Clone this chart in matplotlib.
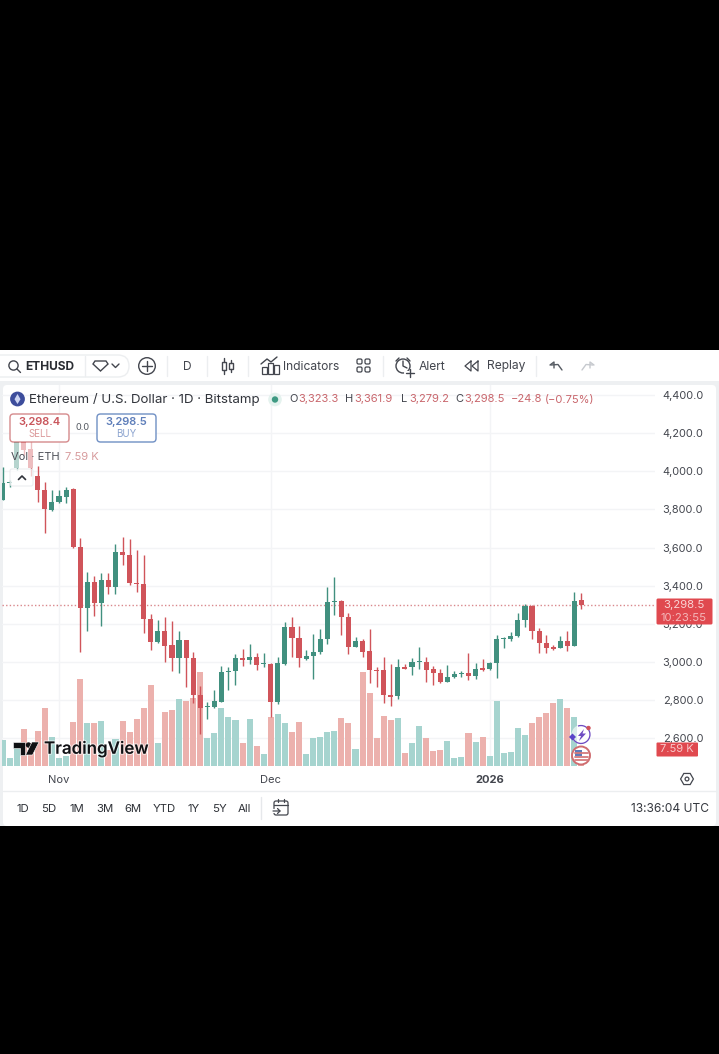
import matplotlib
matplotlib.use("Agg")
import matplotlib.pyplot as plt
from matplotlib.patches import Rectangle, FancyBboxPatch, Circle, Polygon, Wedge, RegularPolygon
import matplotlib.patheffects as pe

plt.rcParams['font.family'] = ['Inter', 'DejaVu Sans']

days = list(range(-8, 75))
opens = [3850,3938,4017,4190,4117,3975,3902,3797,3839,3865,3907,3603,3283,3420,3310,3430,3393,3577,3561,3414,
         3409,3226,3105,3163,3089,3021,3116,3021,2827,2764,2764,2791,2948,2953,3021,3011,3026,2990,2990,2791,
         2990,3184,3126,3016,3032,3053,3121,3315,3320,3236,3079,3110,3058,2958,2958,2827,2822,2974,2974,3000,
         3000,2963,2943,2895,2922,2937,2943,2927,2968,2963,2995,3121,3121,3137,3220,3294,3163,3100,3079,3074,
         3110,3084,3323.3]
highs = [4023,3954,4217,4217,4154,4028,3944,3902,3902,3918,3912,3650,3472,3451,3467,3467,3619,3656,3645,3587,
         3561,3252,3220,3236,3215,3163,3116,3053,2874,2791,2853,2979,2974,3042,3068,3095,3047,3047,2995,3026,
         3210,3236,3189,3063,3147,3173,3393,3446,3325,3257,3131,3121,3173,2974,3026,2990,3016,2990,3021,3079,
         3026,2979,2963,2984,2953,2953,3047,2995,3016,3000,3142,3131,3158,3257,3304,3299,3178,3142,3089,3137,
         3163,3367,3361.9]
lows = [3850,3917,4007,4085,3975,3839,3677,3792,3834,3834,3598,3053,3163,3241,3189,3357,3357,3509,3404,3367,
        3152,3063,3100,3000,2953,2943,2869,2785,2623,2701,2759,2791,2853,2880,2979,2990,2958,2974,2712,2780,
        2984,3026,2974,3011,2911,3042,3095,3247,3142,3042,3079,3026,2890,2869,2785,2770,2806,2963,2932,2963,
        2895,2880,2890,2895,2916,2922,2906,2911,2953,2958,2916,3074,3110,3131,3184,3121,3047,3047,3063,3074,
        3058,3084,3279.2]
closes = [3938,3944,4190,4112,4017,3902,3802,3839,3870,3902,3603,3283,3420,3310,3430,3393,3577,3561,3414,3409,
          3226,3105,3163,3084,3021,3116,3021,2827,2759,2770,2796,2948,2953,3021,3011,3026,2984,2995,2791,2995,
          3184,3126,3021,3032,3053,3121,3315,3320,3236,3079,3110,3053,2958,2953,2827,2817,2974,2963,3000,3005,
          2958,2943,2895,2922,2937,2943,2927,2963,2958,2995,3121,3126,3137,3220,3294,3163,3100,3074,3068,3110,
          3084,3320,3298.5]
volumes = [11.6,3.6,10.3,16.5,10.3,15.6,25.9,12.9,3.6,4.5,19.6,38.8,19.2,19.2,20.1,7.1,12.1,20.1,15.2,21.0,
           25.9,36.2,10.3,24.1,25.0,29.9,29.0,30.4,42.0,12.5,14.7,25.9,21.9,20.5,10.3,21.0,8.9,5.4,21.9,23.2,
           19.2,15.2,19.6,5.4,12.5,12.9,15.2,15.6,21.4,19.2,7.6,42.0,32.6,12.5,22.3,20.5,21.4,5.8,10.3,17.9,
           12.5,6.7,7.1,11.2,3.6,4.0,14.7,10.7,12.9,4.5,29.0,5.8,6.3,17.0,13.8,19.2,21.9,23.7,28.1,29.9,
           25.9,21.9,7.59]
price_ticks = [2600,2800,3000,3200,3400,3600,3800,4000,4200,4400]
time_ticks = [0, 30, 61]
time_labels = ['Nov', 'Dec', '2026']
last_price = 3298.5
range_labels = ['1D','5D','1M','3M','6M','YTD','1Y','5Y','All']

W, H = 719, 1054
GREEN, RED = '#41907f', '#d0545a'
VGREEN, VRED = '#a6d4cf', '#ecb1ad'
INK, GRID = '#43464e', '#f3f4f6'
SOFTRED = '#c9666c'

fig = plt.figure(figsize=(W/100, H/100), dpi=100, facecolor='black')

def box(l, t, r, b):
    return [l/W, 1-b/H, (r-l)/W, (b-t)/H]

bg = fig.add_axes([0, 0, 1, 1], zorder=0)
bg.set_xlim(0, W); bg.set_ylim(H, 0); bg.axis('off')
bg.add_patch(Rectangle((0, 350), W, 476, fc='white', ec='none'))
bg.add_patch(Rectangle((0, 381), W, 445, fc='#eef0f2', ec='none'))
bg.add_patch(FancyBboxPatch((5, 387), 709, 437, boxstyle='round,pad=2,rounding_size=4', fc='white', ec='none'))

# price pane
ax = fig.add_axes(box(2, 385, 655, 766), zorder=1)
PX = 7.06
ax.set_xlim((2-59)/PX, (655-59)/PX)
ax.set_ylim(2455.0, 4452.4)
ax.patch.set_alpha(0)
for s in ax.spines.values():
    s.set_visible(False)

# volume
vol = ax.twinx()
vol.set_zorder(2); vol.patch.set_visible(False)
vol.set_ylim(0, 170.1); vol.axis('off')
vcol = [VGREEN if c >= o else VRED for o, c in zip(opens, closes)]
vol.bar(days, volumes, width=0.86, color=vcol, lw=0)

# candles
cax = ax.twinx()
cax.set_zorder(3); cax.patch.set_visible(False)
cax.set_ylim(ax.get_ylim()); cax.axis('off')
cax.axhline(last_price, color='#d9888c', lw=1, ls=(0, (1, 1.6)), zorder=1)
for d, o, h, l, c in zip(days, opens, highs, lows, closes):
    col = GREEN if c >= o else RED
    cax.vlines(d, l, h, color=col, lw=1.0, zorder=2)
    low, high = min(o, c), max(o, c)
    cax.bar(d, max(high-low, 6), bottom=low, width=0.72, color=col, lw=0, zorder=3)

# ticks are set after twinx, which would otherwise move them back to the left
ax.yaxis.tick_right()
ax.set_yticks(price_ticks)
ax.set_yticklabels([f'{p:,.1f}' for p in price_ticks], fontsize=7.9, color=INK)
ax.tick_params(axis='y', length=0, pad=5.5)
ax.set_xticks(time_ticks)
ax.set_xticklabels(time_labels, fontsize=8, color=INK)
ax.get_xticklabels()[2].set_fontweight('bold')
ax.tick_params(axis='x', length=0, pad=6.5)
ax.grid(True, color=GRID, lw=1)
ax.set_axisbelow(True)

# interface overlay in screen pixels
ov = fig.add_axes([0, 0, 1, 1], zorder=4)
ov.set_xlim(0, W); ov.set_ylim(H, 0); ov.axis('off'); ov.patch.set_visible(False)

def T(x, y, s, size=8.2, color=INK, ha='left', weight='normal', **kw):
    return ov.text(x, y, s, fontsize=size, color=color, ha=ha, va='center', fontweight=weight, **kw)

def L(xs, ys, color=INK, lw=1.0, **kw):
    ov.plot(xs, ys, color=color, lw=lw, solid_capstyle='round', **kw)

# toolbar
ov.add_patch(FancyBboxPatch((-12, 355), 141, 22, boxstyle='round,pad=0,rounding_size=11', fc='white', ec='#eceef0', lw=1))
ov.add_patch(Circle((13.5, 365.5), 4.6, fc='none', ec=INK, lw=1))
L([17, 20.5], [369, 372.5])
T(25, 366.5, 'ETHUSD', 8.6, '#2a2d33', weight='bold')
for x in (85, 167, 207, 248, 383, 536):
    L([x, x], [356, 376], color='#eceef0')
ov.add_patch(Polygon([[95, 361], [106, 361], [108, 364], [100.5, 371], [93, 364]], fc='none', ec=INK, lw=1))
L([112, 115.5, 119], [364, 367.5, 364])
ov.add_patch(Circle((147, 366), 8.3, fc='none', ec=INK, lw=1))
L([142, 152], [366, 366]); L([147, 147], [361, 371])
T(187, 366.5, 'D', 8.6, ha='center')
for x, y0, y1, t0, t1 in ((224, 362, 370, 358, 374), (231, 363, 369, 360, 372)):
    ov.add_patch(Rectangle((x-2, y0), 4, y1-y0, fc='none', ec=INK, lw=1))
    L([x, x], [t0, y0]); L([x, x], [y1, t1])
for x, h in ((262, 7), (268, 11), (274, 9)):
    ov.add_patch(Rectangle((x, 374-h), 5, h, fc='none', ec=INK, lw=0.9))
L([261, 267, 271, 277], [364, 359, 362, 357])
T(283, 366.5, 'Indicators', 8.7)
for x in (357, 365):
    for y in (359, 367):
        ov.add_patch(FancyBboxPatch((x, y), 5, 5, boxstyle='round,pad=0,rounding_size=1.5', fc='none', ec=INK, lw=0.9))
ov.add_patch(Circle((403, 366), 7, fc='none', ec=INK, lw=1))
L([403, 403, 407], [361, 366, 368])
L([396, 399], [361, 358]); L([410, 407], [361, 358])
L([406, 414], [373, 373], color='white', lw=3); L([410, 410], [369, 377]); L([406, 414], [373, 373])
T(419, 366.5, 'Alert', 8.7)
L([471, 465, 471, 471], [361, 366, 371, 361], lw=0.9); L([478, 472, 478, 478], [361, 366, 371, 361], lw=0.9)
T(487, 366.5, 'Replay', 8.7)
L([550, 554, 554], [365, 362, 368], color='#555a62'); L([551, 558, 562], [365, 364.5, 370], color='#555a62')
L([594, 590, 590], [365, 362, 368], color='#c6c9ce'); L([593, 586, 582], [365, 364.5, 370], color='#c6c9ce')

# legend row
ov.add_patch(Circle((17.5, 399), 7.4, fc='#3d4d9c', ec='none'))
ov.add_patch(Polygon([[17.5, 394], [20.5, 399.2], [17.5, 404], [14.5, 399.2]], fc='#cdd5f3', ec='none'))
T(29, 399.5, 'Ethereum / U.S. Dollar · 1D · Bitstamp', 9.6, '#31343b')
ov.add_patch(Circle((275, 399.5), 6.8, fc='#e4f2ee', ec='none'))
ov.add_patch(Circle((275, 399.5), 3.2, fc='#3f9a83', ec='none'))
for x, s, col in ((289, 'O', INK), (298.5, '3,323.3', SOFTRED), (345, 'H', INK), (354.5, '3,361.9', SOFTRED),
                  (401, 'L', INK), (409, '3,279.2', SOFTRED), (455, 'C', INK), (464.5, '3,298.5', SOFTRED),
                  (511, '−24.8', SOFTRED), (545, '(−0.75%)', SOFTRED)):
    T(x, 399.5, s, 8.0, col)

# fading behind labels
ov.add_patch(Rectangle((10, 443), 26, 25, fc='white', alpha=0.62, ec='none'))
ov.add_patch(FancyBboxPatch((10, 469), 23, 17, boxstyle='round,pad=0,rounding_size=2', fc='white', alpha=0.72, ec='#e4e6e9', lw=0.8))
L([18.5, 22, 25.5], [479.5, 476, 479.5], color='#30333a', lw=1.2)
T(11, 456.5, 'Vol · ETH', 8.0, '#4a4d55')
T(65, 456.5, '7.59 K', 8.0, '#d79a9c')

# sell / buy
ov.add_patch(FancyBboxPatch((10, 414), 59, 28, boxstyle='round,pad=0,rounding_size=3.5', fc='white', ec='#d58a8c', lw=1))
ov.add_patch(FancyBboxPatch((97, 414), 59, 28, boxstyle='round,pad=0,rounding_size=3.5', fc='white', ec='#6f8fc4', lw=1))
T(39.5, 422, '3,298.4', 8.0, '#c9565c', ha='center', weight='semibold')
T(39.5, 434, 'SELL', 7.0, '#dc9a9c', ha='center')
T(126.5, 422, '3,298.5', 8.0, '#5f7fba', ha='center', weight='semibold')
T(126.5, 434, 'BUY', 7.0, '#8ba3cf', ha='center')
T(83, 427.5, '0.0', 6.6, '#555a62', ha='center')

# price labels
ov.add_patch(FancyBboxPatch((656.5, 598.5), 56, 26, boxstyle='round,pad=0,rounding_size=1.5', fc='#e0494f', ec='none'))
T(684, 605.5, '3,298.5', 8.2, '#f9d3d4', ha='center')
T(684, 618, '10:23:55', 8.2, '#f4b7b9', ha='center')
ov.add_patch(FancyBboxPatch((656.5, 742.5), 41.5, 14, boxstyle='round,pad=0,rounding_size=1', fc='#e0494f', ec='none'))
T(677, 749.5, '7.59 K', 8.0, '#f9c9cb', ha='center')

# watermark
halo = [pe.withStroke(linewidth=1.6, foreground='white', alpha=0.6)]
mark = ['#101114']
ov.add_patch(Polygon([[13, 742], [25, 742], [25, 755], [19.5, 755], [19.5, 747.5], [13, 747.5]], fc=mark[0], ec='white', lw=0.4))
ov.add_patch(Circle((28.5, 745), 2.7, fc=mark[0], ec='none'))
ov.add_patch(Polygon([[32, 742], [39, 742], [32.5, 755], [25.5, 755]], fc=mark[0], ec='white', lw=0.4))
T(44, 749, 'TradingView', 12.2, mark[0], weight='semibold', path_effects=halo)

# status icons
ov.add_patch(Circle((581, 734.5), 9.5, fc='white', alpha=0.6, ec='none'))
ov.add_patch(Wedge((581, 734.5), 9.6, -110, 175, width=1.3, fc='#6e4bc2', ec='none'))
ov.add_patch(Polygon([[584, 729], [578, 736], [581, 736], [579, 741], [586, 733.5], [582.5, 733.5]], fc='#6e4bc2', ec='none'))
ov.add_patch(Polygon([[569, 737], [572.5, 733.5], [576, 737], [572.5, 740.5]], fc='#5a45c9', ec='none'))
ov.add_patch(Circle((588.5, 728), 2.2, fc='#d0525a', ec='none'))
ov.add_patch(Circle((581, 755.5), 9, fc='white', ec='#cf6d70', lw=1.4))
for y in (753, 756.5, 760):
    L([574.5, 587.5], [y, y], color='#d5797c', lw=1.3)
ov.add_patch(Rectangle((575, 750), 7, 5.5, fc='#5f7ab8', ec='none'))

# settings hexagon
ov.add_patch(RegularPolygon((687, 779), 6, radius=6.4, orientation=0.5236, fc='none', ec=INK, lw=0.9))
ov.add_patch(Circle((687, 779), 1.9, fc='none', ec=INK, lw=0.9))

# bottom bar
L([3, 716], [791, 791], color='#eceef0')
for x, s in zip((23, 49, 77, 105, 133, 164, 194, 219, 244), range_labels):
    T(x, 808.5, s, 8.2, '#2f3238', ha='center')
L([260.5, 260.5], [797, 819], color='#e6e8eb')
ov.add_patch(FancyBboxPatch((274, 801), 14, 14, boxstyle='round,pad=0,rounding_size=2', fc='none', ec=INK, lw=0.9))
L([274, 288], [804.5, 804.5], lw=0.9); L([278, 278], [799, 802], lw=0.9); L([284, 284], [799, 802], lw=0.9)
L([272, 281], [811, 811], color='white', lw=3); L([273, 280, 277.5], [811, 811, 808.5], lw=0.9); L([280, 277.5], [811, 813.5], lw=0.9)
T(709, 808.5, '13:36:04 UTC', 8.6, '#34373e', ha='right')

fig.savefig('out.png', dpi=100, facecolor='black')
